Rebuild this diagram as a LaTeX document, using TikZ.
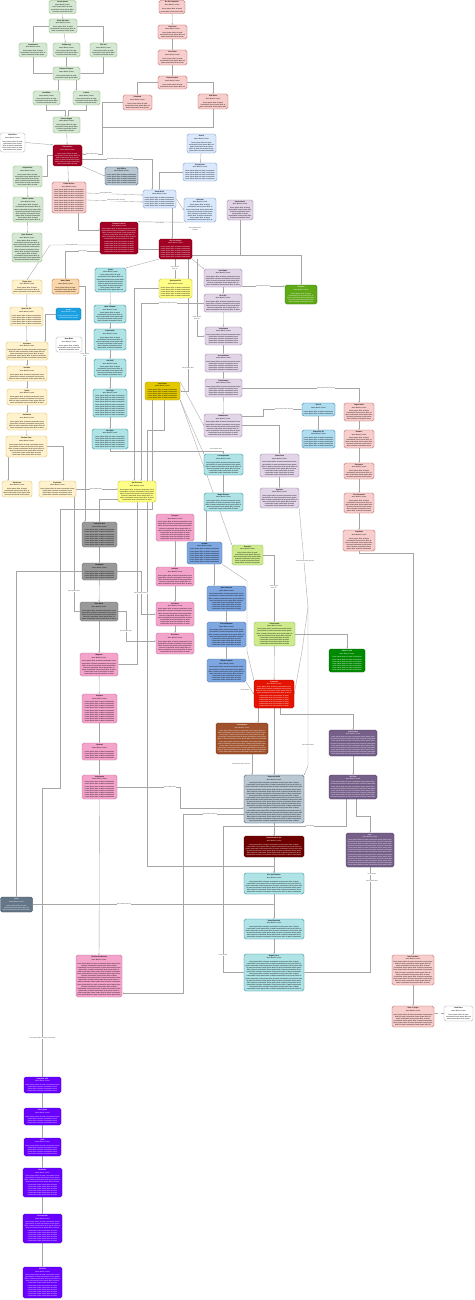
\documentclass[tikz,border=0pt]{standalone}
\usepackage{fontspec}
\setmainfont{Liberation Sans}
\usetikzlibrary{arrows.meta}

\definecolor{sageF}{HTML}{D5E8D4}\definecolor{sageD}{HTML}{82B366}
\definecolor{roseF}{HTML}{F8CECC}\definecolor{roseD}{HTML}{B85450}
\definecolor{skyF}{HTML}{DAE8FC}\definecolor{skyD}{HTML}{6C8EBF}
\definecolor{crimF}{HTML}{A20025}\definecolor{crimD}{HTML}{6F0000}
\definecolor{steelF}{HTML}{BAC8D3}\definecolor{steelD}{HTML}{23445D}
\definecolor{creamF}{HTML}{FFF2CC}\definecolor{creamD}{HTML}{D6B656}
\definecolor{peachF}{HTML}{FAD7AC}\definecolor{peachD}{HTML}{B46504}
\definecolor{tealF}{HTML}{B0E3E6}\definecolor{tealD}{HTML}{0E8088}
\definecolor{lemonF}{HTML}{FFFF88}\definecolor{lemonD}{HTML}{B3B300}
\definecolor{lilacF}{HTML}{E1D5E7}\definecolor{lilacD}{HTML}{9673A6}
\definecolor{azureF}{HTML}{1BA1E2}\definecolor{azureD}{HTML}{006EAF}
\definecolor{goldF}{HTML}{E3C800}\definecolor{goldD}{HTML}{B09500}
\definecolor{limeF}{HTML}{60A917}\definecolor{limeD}{HTML}{2D7600}
\definecolor{forestF}{HTML}{008A00}\definecolor{forestD}{HTML}{005700}
\definecolor{ashF}{HTML}{999999}\definecolor{ashD}{HTML}{666666}
\definecolor{candyF}{HTML}{F4A3CB}\definecolor{candyD}{HTML}{C2649A}
\definecolor{cornF}{HTML}{7EA6E0}\definecolor{cornD}{HTML}{4A6FA8}
\definecolor{mintF}{HTML}{CDEB8B}\definecolor{mintD}{HTML}{82B366}
\definecolor{iceF}{HTML}{B1DDF0}\definecolor{iceD}{HTML}{10739E}
\definecolor{scarF}{HTML}{E51400}\definecolor{scarD}{HTML}{B20000}
\definecolor{rustF}{HTML}{A0522D}\definecolor{rustD}{HTML}{6D1F00}
\definecolor{plumF}{HTML}{76608A}\definecolor{plumD}{HTML}{432D57}
\definecolor{wineF}{HTML}{6F0000}\definecolor{wineD}{HTML}{3B0000}
\definecolor{slateF}{HTML}{647687}\definecolor{slateD}{HTML}{314354}
\definecolor{indF}{HTML}{6A00FF}\definecolor{indD}{HTML}{3700CC}

\newbox\cardtext
\newbox\cardpart
\newcommand\lorem{\foreach \k in {1,...,45}{lorem ipsum dolor sit amet consectetur }}
\newcommand\cardbody[3]{%
  \setbox\cardtext=\vbox{\hsize=\dimexpr#1pt-3pt\relax\parindent=0pt\hbadness=10000
    \centering\fontsize{1.7}{2.1}\selectfont
    {\bfseries #3\par}anno domini, lorem\par\vskip0.8pt\lorem\par}%
  \splittopskip=1.6pt\splitmaxdepth=0.5pt\vbadness=10000\vfuzz=50pt
  \setbox\cardpart=\vsplit\cardtext to \dimexpr#2pt-2.6pt\relax
  \box\cardpart}
\newcommand\card[7]{\node[#2, minimum width=#5pt, minimum height=#6pt] (#1) at (#3,#4) {\cardbody{#5}{#6}{#7}};}
\newcommand\tagfont{\fontsize{1.5}{1.8}\selectfont}

\pgfdeclarelayer{paper}
\pgfdeclarelayer{wires}
\pgfsetlayers{paper,wires,main}

\tikzset{
  card/.style={draw, rounded corners=1.6pt, line width=0.4pt, inner sep=0pt},
  sagebox/.style={card, fill=sageF, draw=sageD},
  rosebox/.style={card, fill=roseF, draw=roseD},
  skybox/.style={card, fill=skyF, draw=skyD},
  crimsonbox/.style={card, fill=crimF, draw=crimD, text=white},
  steelbox/.style={card, fill=steelF, draw=steelD},
  creambox/.style={card, fill=creamF, draw=creamD},
  peachbox/.style={card, fill=peachF, draw=peachD},
  tealbox/.style={card, fill=tealF, draw=tealD},
  lemonbox/.style={card, fill=lemonF, draw=lemonD},
  lilacbox/.style={card, fill=lilacF, draw=lilacD},
  azurebox/.style={card, fill=azureF, draw=azureD, text=white},
  notebox/.style={card, fill=white, draw=black!35},
  goldbox/.style={card, fill=goldF, draw=goldD},
  limebox/.style={card, fill=limeF, draw=limeD, text=white},
  forestbox/.style={card, fill=forestF, draw=forestD, text=white},
  ashbox/.style={card, fill=ashF, draw=ashD},
  candybox/.style={card, fill=candyF, draw=candyD},
  cornbox/.style={card, fill=cornF, draw=cornD},
  mintbox/.style={card, fill=mintF, draw=mintD},
  icebox/.style={card, fill=iceF, draw=iceD},
  scarletbox/.style={card, fill=scarF, draw=scarD, text=white},
  rustbox/.style={card, fill=rustF, draw=rustD, text=white},
  plumbox/.style={card, fill=plumF, draw=plumD, text=white},
  winebox/.style={card, fill=wineF, draw=wineD, text=white},
  slatebox/.style={card, fill=slateF, draw=slateD, text=white},
  indigobox/.style={card, fill=indF, draw=indD, text=white},
  link/.style={draw=black!35, line width=0.35pt, -{Stealth[length=1.4pt,width=1.2pt]}},
  tag/.style={font=\tagfont, fill=white, inner sep=0.4pt, text=black!80, align=center}
}

\begin{document}
\begin{tikzpicture}[x=1pt, y=-1pt]
	\useasboundingbox (0,0) rectangle (474,1300);
	\begin{pgfonlayer}{paper}
		\fill[white] (0,0) rectangle (474,1300);
	\end{pgfonlayer}

	% first branch
	\card{g1}{sagebox}{62.5}{7}{27}{13}{Lorem Ipsum}
	\card{g2}{sagebox}{63}{26}{28}{14}{Dolor Sit Amet}
	\card{g3}{sagebox}{33}{50}{28}{14}{Consectetur}
	\card{g4}{sagebox}{66.5}{50}{27}{14}{Adipiscing}
	\card{g5}{sagebox}{103.5}{50}{27}{14}{Elit Sed}
	\card{g6}{sagebox}{66.5}{73.5}{27}{13}{Eiusmod Tempor}
	\card{g7}{sagebox}{46.5}{98}{27}{14}{Incididunt}
	\card{g8}{sagebox}{86.5}{98}{27}{14}{Labore}
	\card{g9}{sagebox}{66.5}{125}{27}{16}{Dolore Magna}
	\card{g10}{sagebox}{27.5}{176.5}{29}{21}{Aliqua Enim}
	\card{g11}{sagebox}{28}{209.5}{30}{25}{Minim Veniam}
	\card{g12}{sagebox}{27}{247.5}{30}{29}{Quis Nostrud}

	\card{n1}{notebox}{12.5}{142.5}{25}{19}{Nota Bene}
	\card{n2}{notebox}{69}{344.5}{26}{15}{Nota Bene}
	\card{n3}{notebox}{458.5}{1013.5}{29}{15}{Nota Bene}

	\card{c1}{crimsonbox}{67.5}{155.5}{29}{21}{Exercitation}
	\card{c2}{crimsonbox}{119}{238}{38}{32}{Ullamco Laboris}
	\card{c3}{crimsonbox}{175.5}{249}{33}{20}{Nisi Ut Aliquip}

	% second branch
	\card{r1}{rosebox}{172}{7}{26}{13}{Ex Ea Commodo}
	\card{r2}{rosebox}{172.5}{32}{29}{14}{Duis Aute}
	\card{r3}{rosebox}{172.5}{57.5}{29}{15}{Irure Dolor}
	\card{r4}{rosebox}{172.5}{82.5}{29}{13}{Reprehenderit}
	\card{r5}{rosebox}{137.5}{102.5}{29}{15}{Voluptate}
	\card{r6}{rosebox}{213}{101.5}{30}{15}{Velit Esse}
	\card{r7}{rosebox}{69}{197.5}{34}{31}{Cillum Dolore}
	\card{r8}{rosebox}{359}{412}{30}{18}{Fugiat Nulla}
	\card{r9}{rosebox}{359}{439}{30}{18}{Pariatur}
	\card{r10}{rosebox}{359}{471}{30}{16}{Excepteur}
	\card{r11}{rosebox}{359}{503}{30}{20}{Sint Occaecat}
	\card{r12}{rosebox}{359}{540.5}{32}{21}{Cupidatat}
	\card{r13}{rosebox}{413}{970}{42}{30}{Non Proident}
	\card{r14}{rosebox}{413}{1016.5}{42}{21}{Sunt in Culpa}

	\card{st1}{steelbox}{121.5}{176}{33}{18}{Qui Officia}
	\card{st2}{steelbox}{274}{799}{60}{48}{Deserunt Mollit}

	\card{b1}{skybox}{159.5}{199}{33}{18}{Anim Id Est}
	\card{b2}{skybox}{200}{210}{32}{24}{Laborum}
	\card{b3}{skybox}{201.5}{143.5}{29}{19}{Sed Ut}
	\card{b4}{skybox}{200}{172}{34}{18}{Perspiciatis}

	\card{l0}{lilacbox}{240}{210}{26}{20}{Unde Omnis}
	\card{l1}{lilacbox}{223}{278}{38}{18}{Iste Natus}
	\card{l2}{lilacbox}{223}{303}{38}{18}{Error Sit}
	\card{l3}{lilacbox}{223.5}{336}{37}{18}{Voluptatem}
	\card{l4}{lilacbox}{223.5}{363}{37}{18}{Accusantium}
	\card{l5}{lilacbox}{223.5}{388}{37}{18}{Doloremque}
	\card{l6}{lilacbox}{223}{425.5}{38}{23}{Laudantium}
	\card{l7}{lilacbox}{279.5}{465.5}{39}{23}{Totam Rem}
	\card{l8}{lilacbox}{279.5}{498}{39}{20}{Aperiam}

	\card{y1}{creambox}{27}{287}{30}{14}{Eaque Ipsa}
	\card{y2}{creambox}{26.5}{316.5}{33}{19}{Quae Ab Illo}
	\card{y3}{creambox}{27}{351}{42}{18}{Inventore}
	\card{y4}{creambox}{27}{373.5}{40}{15}{Veritatis}
	\card{y5}{creambox}{27}{397}{40}{16}{Quasi}
	\card{y6}{creambox}{27}{421.5}{40}{17}{Architecto}
	\card{y7}{creambox}{26.5}{446.5}{41}{21}{Beatae Vitae}
	\card{y8}{creambox}{17}{489}{30}{16}{Dicta Sunt}
	\card{y9}{creambox}{57.5}{489}{37}{16}{Explicabo}

	\card{o1}{peachbox}{65.5}{286.5}{27}{15}{Nemo Enim}

	\card{t1}{tealbox}{110.5}{280}{31}{24}{Ipsam}
	\card{t2}{tealbox}{110}{314}{32}{18}{Quia Voluptas}
	\card{t3}{tealbox}{110}{339.5}{32}{21}{Aspernatur}
	\card{t4}{tealbox}{110}{368}{32}{18}{Aut Odit}
	\card{t5}{tealbox}{110}{403}{34}{28}{Aut Fugit}
	\card{t6}{tealbox}{110}{439}{36}{20}{Sed Quia}
	\card{t7}{tealbox}{223.5}{464.5}{39}{21}{Consequuntur}
	\card{t8}{tealbox}{223.5}{502}{39}{18}{Magni Dolores}
	\card{t9}{tealbox}{274}{883.5}{60}{21}{Eos Qui Ratione}
	\card{t10}{tealbox}{274}{929}{60}{20}{Sequi Nesciunt}
	\card{t11}{tealbox}{274}{972.5}{60}{37}{Neque Porro}

	\card{h1}{lemonbox}{175.5}{288.5}{33}{19}{Quisquam Est}
	\card{h2}{lemonbox}{137}{491.5}{38}{21}{Qui Dolorem}
	\card{a1}{azurebox}{68.5}{314}{25}{12}{Ipsum}
	\card{au}{goldbox}{162.5}{391}{35}{18}{Quia Dolor}
	\card{v1}{limebox}{301}{294.5}{32}{19}{Sit Amet}
	\card{v2}{forestbox}{347}{660.5}{36}{23}{Adipisci Velit}

	\card{k1}{ashbox}{99.5}{534.5}{35}{25}{Sed Quia Non}
	\card{k2}{ashbox}{99.5}{571.5}{35}{17}{Numquam}
	\card{k3}{ashbox}{99}{611.5}{38}{19}{Eius Modi}

	\card{p1}{candybox}{175}{527.5}{38}{27}{Tempora}
	\card{p2}{candybox}{175}{576.5}{38}{19}{Incidunt}
	\card{p3}{candybox}{175}{614}{38}{24}{Ut Labore}
	\card{p4}{candybox}{175}{643.5}{38}{21}{Et Dolore}
	\card{p5}{candybox}{99}{664.5}{38}{23}{Magnam}
	\card{p6}{candybox}{99.5}{708.5}{35}{29}{Aliquam}
	\card{p7}{candybox}{99.5}{751.5}{35}{17}{Quaerat}
	\card{p8}{candybox}{99.5}{787}{35}{24}{Voluptatem}
	\card{p9}{candybox}{99}{976}{46}{42}{Ut Enim Ad Minima}

	\card{m1}{cornbox}{204.5}{553}{35}{22}{Veniam}
	\card{m2}{cornbox}{226.5}{598.5}{39}{25}{Quis Nostrum}
	\card{m3}{cornbox}{226.5}{634.5}{39}{25}{Exercitationem}
	\card{m4}{cornbox}{226.5}{670.5}{39}{23}{Ullam Corporis}

	\card{q1}{mintbox}{247.5}{555}{31}{20}{Suscipit}
	\card{q2}{mintbox}{274.5}{634}{41}{24}{Laboriosam}
	\card{i1}{icebox}{318.5}{409.5}{33}{13}{Nisi Ut}
	\card{i2}{icebox}{318.5}{439}{33}{18}{Aliquid Ex Ea}
	\card{e1}{scarletbox}{274}{694}{40}{28}{Commodi}
	\card{f1}{rustbox}{242}{738.5}{52}{31}{Consequatur}

	\card{u1}{plumbox}{353}{743}{48}{26}{Quis Autem}
	\card{u2}{plumbox}{353}{787}{48}{24}{Vel Eum}
	\card{u3}{plumbox}{370}{850}{48}{34}{Iure}
	\card{w1}{winebox}{274}{846.5}{60}{21}{Reprehenderit Qui}
	\card{z1}{slatebox}{16.5}{904.5}{32}{15}{In Ea}

	\card{j1}{indigobox}{42.5}{1085}{37}{16}{Voluptate Velit}
	\card{j2}{indigobox}{42.5}{1116.5}{37}{17}{Esse Quam}
	\card{j3}{indigobox}{42.5}{1147}{37}{18}{Nihil}
	\card{j4}{indigobox}{42.5}{1182.5}{39}{29}{Molestiae}
	\card{j5}{indigobox}{42.5}{1228.5}{39}{29}{Consequatur}
	\card{j6}{indigobox}{42.5}{1282.5}{39}{31}{Vel Illum}

	\begin{pgfonlayer}{wires}
	% straight chains
	\foreach \a/\b in {g1/g2,g2/g4,g4/g6,g9/c1,g10/g11,g11/g12,c1/r7,r1/r2,r2/r3,r3/r4,
		b3/b4,c3/h1,l1/l2,l2/l3,l3/l4,l4/l5,l5/l6,l7/l8,y1/y2,y2/y3,y3/y4,y4/y5,y5/y6,y6/y7,
		t1/t2,t2/t3,t3/t4,t4/t5,t5/t6,t7/t8,i1/i2,r8/r9,r9/r10,r10/r11,r11/r12,r13/r14,
		k1/k2,k2/k3,k3/p5,p5/p6,p6/p7,p7/p8,p8/p9,p1/p2,p2/p3,p3/p4,m2/m3,m3/m4,
		st2/w1,w1/t9,t9/t10,t10/t11,u1/u2,e1/st2,q2/e1,j1/j2,j2/j3,j3/j4,j4/j5,j5/j6}
		\draw[link] (\a) -- (\b);

	\draw[link] (g2.west) -| (g3.north);
	\draw[link] (g2.east) -| (g5.north);
	\draw[link] (g3.south) |- (g6.west);
	\draw[link] (g5.south) |- (g6.east);
	\draw[link] (g6.south -| 58,0) -- (g7.north -| 58,0);
	\draw[link] (g6.south -| 76,0) -- (g8.north -| 76,0);
	\draw[link] (g7.south) |- (65,110) -- (g9.north -| 65,0);
	\draw[link] (g8.south) |- (68,110) -- (g9.north -| 68,0);
	\draw[link] (n1.east) -- (c1.north west);
	\draw[link] (c1.west) -- (47,155.5) |- (g10.east);
	\draw[link] (c1.south east) -- (st1.west);
	\draw[link] (r4.west) -| (r5.north);
	\draw[link] (r4.east) -| (r6.north);
	\draw[link] (r5.west) -| (102,154) -- (c1.east |- 0,154);
	\draw[link, -] (r6.south) |- (102,127);
	\draw[link] (c1.east |- 0,159) -- (152,159) -- (b1.north -| 152,0);
	\draw[link] (b4.west) -| (b1.north);
	\draw[link] (b1.east) -- (b2.west);
	\draw[link] (r7.east |- 0,193) -- (b1.west |- 0,195);
	\draw[link] (r7.east |- 0,200) -- (b1.west |- 0,202);
	\draw[link] (r7.south -| 78,0) |- (c2.west |- 0,230);
	\draw[link] (c2.west |- 0,245) -- (50,245) -- (y1.north);
	\draw[link] (c2.west |- 0,251) -| (o1.north);
	\draw[link] (b2.south west) -- (c2.north east);
	\draw[link] (b1.south -| 172,0) -- (c3.north -| 172,0);
	\draw[link] (c3.west) -- (c2.east |- c3.west);
	\draw[link] (c3.south west) -- (t1.north east);
	\draw[link] (c3.south east) -- (l1.north west);
	\draw[link] (c3.east |- 0,255) -| (v1.north);
	\draw[link, -] (l0.south) -- (l0.south |- 0,255);
	\draw[link] (l1.east |- 0,286) -- (v1.west |- 0,286);
	\draw[link] (l2.west) -| (h2.north -| 141,0);
	\draw[link] (h1.west) -| (h2.north -| 134,0);
	\draw[link] (a1.west) -| (y3.north -| 45,0);
	\draw[link] (o1.east) -| (k1.north -| 85,0);
	\draw[link] (c3.south -| 188,0) |- (au.east);
	\draw[link] (c3.south -| 197,0) |- (l3.west);
	\draw[link] (l6.east |- 0,416) -| (263,409.5) -- (i1.west);
	\draw[link] (l6.east |- 0,425) -| (l7.north);
	\draw[link] (l5.east) -| (r8.north);
	\draw[link] (r12.south) |- (r13.north |- 0,553) -- (r13.north);
	\draw[link, dashed] (n3.west) -- (r14.east |- n3.west);
	\coordinate (fork) at (308,607);
	\draw[link] (l8.south east) -- (fork) -- (302,651) -- (e1.east);
	\draw[link] (fork) -- (308,766) -- (st2.north east);
	\draw[link] (au.south -| 164,0) |- (147,430) -- (147,866) -| (t9.north);
	\draw[link] (au.south -| 152,0) -- (152,509) -| (60,788) -| (j1.north);
	\draw[link] (au.south east) -- (t7.north west);
	\draw[link] (au.north east) -- (l6.west);
	\draw[link] (au.south east) -- (q1.north west);
	\draw[link] (y9.east) -- (h2.west |- y9.east);
	\draw[link] (h2.west |- 0,499) -| (k1.north);
	\draw[link] (h2.south -| 137,0) |- (p5.east);
	\draw[link] (y7.south -| 8,0) -- (y8.north -| 8,0);
	\draw[link] (y7.east) -| (y9.north -| 63,0);
	\draw[link] (y9.south -| 74,0) |- (k3.west);
	\draw[link] (k2.west) -| (z1.north);
	\draw[link] (k2.east) -| (141,614) -- (p3.west);
	\draw[link] (k3.east) -| (126,641) -- (p4.west |- 0,641);
	\draw[link] (p8.east) -| (180,808) -- (st2.west |- 0,808);
	\draw[link] (st2.west |- 0,814) -| (183,993) -- (p9.east |- 0,993);
	\draw[link] (z1.east) -- (t9.south |- z1.east);
	\draw[link] (u2.south -| 346,0) |- (223,826) |- (t11.west);
	\draw[link] (u2.south -| 356,0) |- (370,816) -- (u3.north);
	\draw[link] (e1.south -| 280,0) |- (353,714) -- (u1.north);
	\draw[link] (e1.south -| 258,0) -- (f1.north -| 258,0);
	\draw[link] (f1.south -| 252,0) -- (st2.north -| 252,0);
	\draw[link] (u3.south) |- (t11.east);
	\draw[link] (q1.east) -| (q2.north);
	\draw[link] (q2.east) -| (v2.north);
	\draw[link] (m1.south -| 214,0) -- (m2.north -| 214,0);
	\draw[link] (m4.south east) -- (e1.west);
	\draw[link] (m1.south east) -- (247,581) -- (247,651) -- (e1.north west);
	\draw[link] (t6.south) |- (t7.north |- 0,451) -- (t7.north);
	\draw[link] (t8.south -| 206,0) -- (m1.north -| 206,0);
	\end{pgfonlayer}

	% connector labels
	\node[tag] (x1) at (92,154) {lorem ipsum dolor};
	\node[tag] (x2) at (120,159) {lorem ipsum dolor sit amet consectetur};
	\node[tag] (x3) at (106,193) {lorem ipsum dolor};
	\node[tag] (x4) at (116,200) {lorem ipsum dolor sit amet};
	\node[tag] (x5) at (72,245) {lorem ipsum dolor};
	\node[tag] (x6) at (83,251) {lorem ipsum};
	\node[tag] (x7) at (160,223) {lorem ipsum};
	\node[tag] (x8) at (195,229) {lorem ipsum dolor\\sit amet};
	\node[tag] (x9) at (175,268) {lorem ipsum\\dolor sit};
	\node[tag] (x10) at (263,286) {lorem ipsum dolor sit};
	\node[tag] (x11) at (168,303) {lorem ipsum dolor sit amet};
	\node[tag] (x12) at (85,355) {lorem ipsum\\dolor};
	\node[tag] (x13) at (188,368) {lorem ipsum dolor};
	\node[tag] (x14) at (197,318) {lorem ipsum\\dolor sit};
	\node[tag] (x15) at (284,409.5) {lorem ipsum dolor sit amet};
	\node[tag] (x16) at (326,388) {lorem ipsum dolor sit amet};
	\node[tag] (x17) at (305,561) {lorem ipsum dolor sit amet};
	\node[tag] (x18) at (308,745) {lorem ipsum dolor};
	\node[tag] (x19) at (42.5,1038) {lorem ipsum dolor sit amet consectetur};
	\node[tag] (x20) at (96,489) {lorem ipsum dolor};
	\node[tag] (x21) at (74,591) {lorem ipsum dolor};
	\node[tag] (x22) at (141,593) {lorem ipsum dolor sit};
	\node[tag] (x23) at (126,631) {lorem ipsum dolor};
	\node[tag] (x24) at (170,787) {lorem ipsum dolor};
	\node[tag] (x25) at (210,814) {lorem ipsum dolor sit};
	\node[tag] (x26) at (124,904.5) {lorem ipsum dolor sit};
	\node[tag] (x27) at (310,826) {lorem ipsum};
	\node[tag] (x28) at (223,955) {lorem ipsum};
	\node[tag] (x29) at (241,764) {lorem ipsum dolor sit amet};
	\node[tag] (x30) at (372,874) {lorem ipsum};
	\node[tag] (x31) at (372,881) {lorem ipsum dolor};
	\node[tag] (x32) at (274,587) {lorem ipsum\\dolor sit};
	\node[tag] (x33) at (245,690) {lorem ipsum};
	\node[tag] (x34) at (216,449) {lorem ipsum dolor};
\end{tikzpicture}
\end{document}
